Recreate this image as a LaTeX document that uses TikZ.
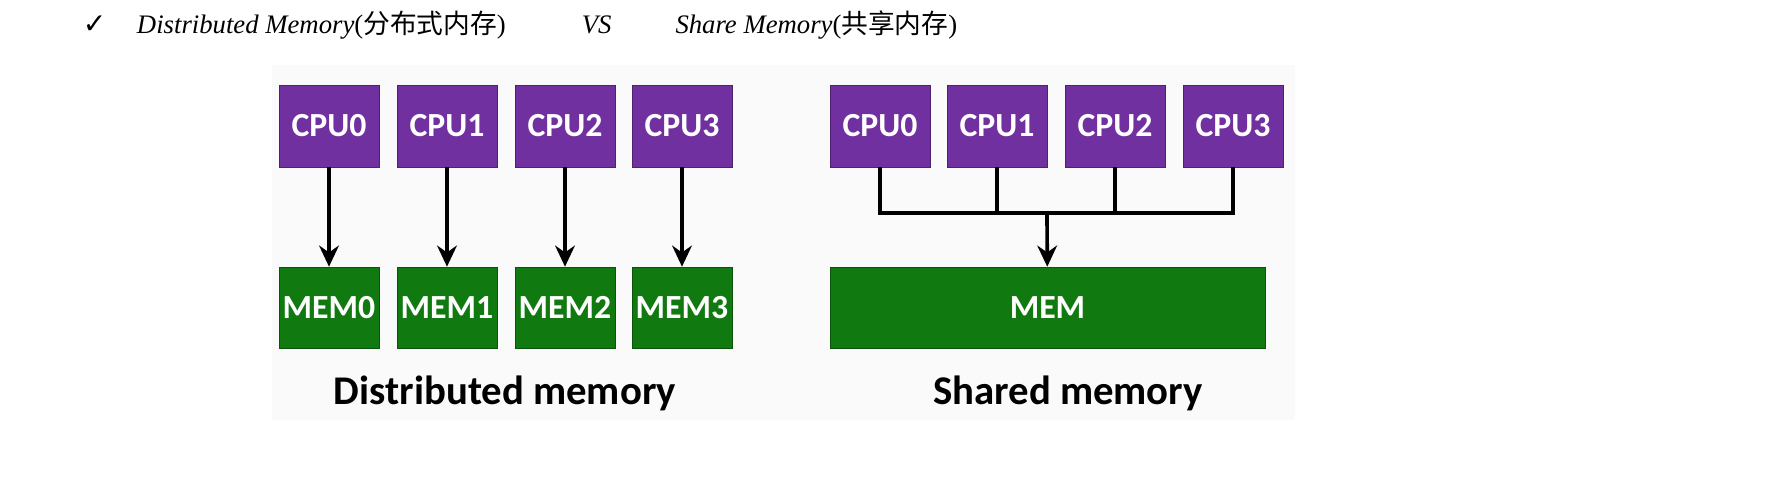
\documentclass[tikz,border=0pt]{standalone}
\usepackage{fontspec}
\setmainfont{Liberation Serif}
\newfontfamily\boxfont{Carlito}
\newfontfamily\cjk{Noto Sans CJK SC}
\newfontfamily\symfont{DejaVu Sans}
\usetikzlibrary{arrows.meta}
\definecolor{cpupurple}{RGB}{112,48,160}
\definecolor{memgreen}{RGB}{16,122,16}
\tikzset{
  cpubox/.style={draw=cpupurple!70!black,fill=cpupurple,text=white,minimum width=100*0.025cm,
    minimum height=82*0.025cm,inner sep=0pt,font=\boxfont\bfseries\fontsize{24}{24}\selectfont},
  membox/.style={draw=memgreen!70!black,fill=memgreen,text=white,minimum width=100*0.025cm,
    minimum height=81*0.025cm,inner sep=0pt,font=\boxfont\bfseries\fontsize{24}{24}\selectfont},
  link/.style={line width=2.6pt},
  arrow/.style={link,-{Stealth[length=15pt,width=14pt]}}
}
\begin{document}
\begin{tikzpicture}[x=0.025cm,y=-0.025cm]
  \useasboundingbox (0,0) rectangle (1778,491);
  \fill[black!2] (272,65) rectangle (1295,420);
  % heading line
  \node[anchor=west] (tick) at (78,25) {\symfont\bfseries\fontsize{20}{20}\selectfont ✓};
  \node[anchor=west] (head) at (132,25) {\fontsize{19}{19}\selectfont
    \textit{Distributed Memory}({\cjk 分布式内存})\hspace{1.9cm}\textit{VS}\hspace{1.6cm}\textit{Share Memory}({\cjk 共享内存})};
  % distributed memory
  \foreach \i/\x in {0/329,1/447,2/565,3/682}{
    \node[cpubox] (c\i) at (\x,126) {CPU\i};
    \node[membox] (m\i) at (\x,307.5) {MEM\i};
    \draw[arrow] (c\i) -- (m\i);
  }
  \node[font=\boxfont\bfseries\fontsize{29}{29}\selectfont] (dlabel) at (505,393) {Distributed memory};
  % shared memory
  \node[membox,minimum width=435*0.025cm] (smem) at (1047.5,307.5) {MEM};
  \coordinate (bus) at (1047,213);
  \foreach \i/\x in {0/880,1/997,2/1115,3/1233}{
    \node[cpubox] (s\i) at (\x,126) {CPU\i};
    \draw[link] (s\i.south) |- (bus);
  }
  \draw[arrow] (bus) -- (smem);
  \node[font=\boxfont\bfseries\fontsize{29}{29}\selectfont] (slabel) at (1068,393) {Shared memory};
\end{tikzpicture}
\end{document}
